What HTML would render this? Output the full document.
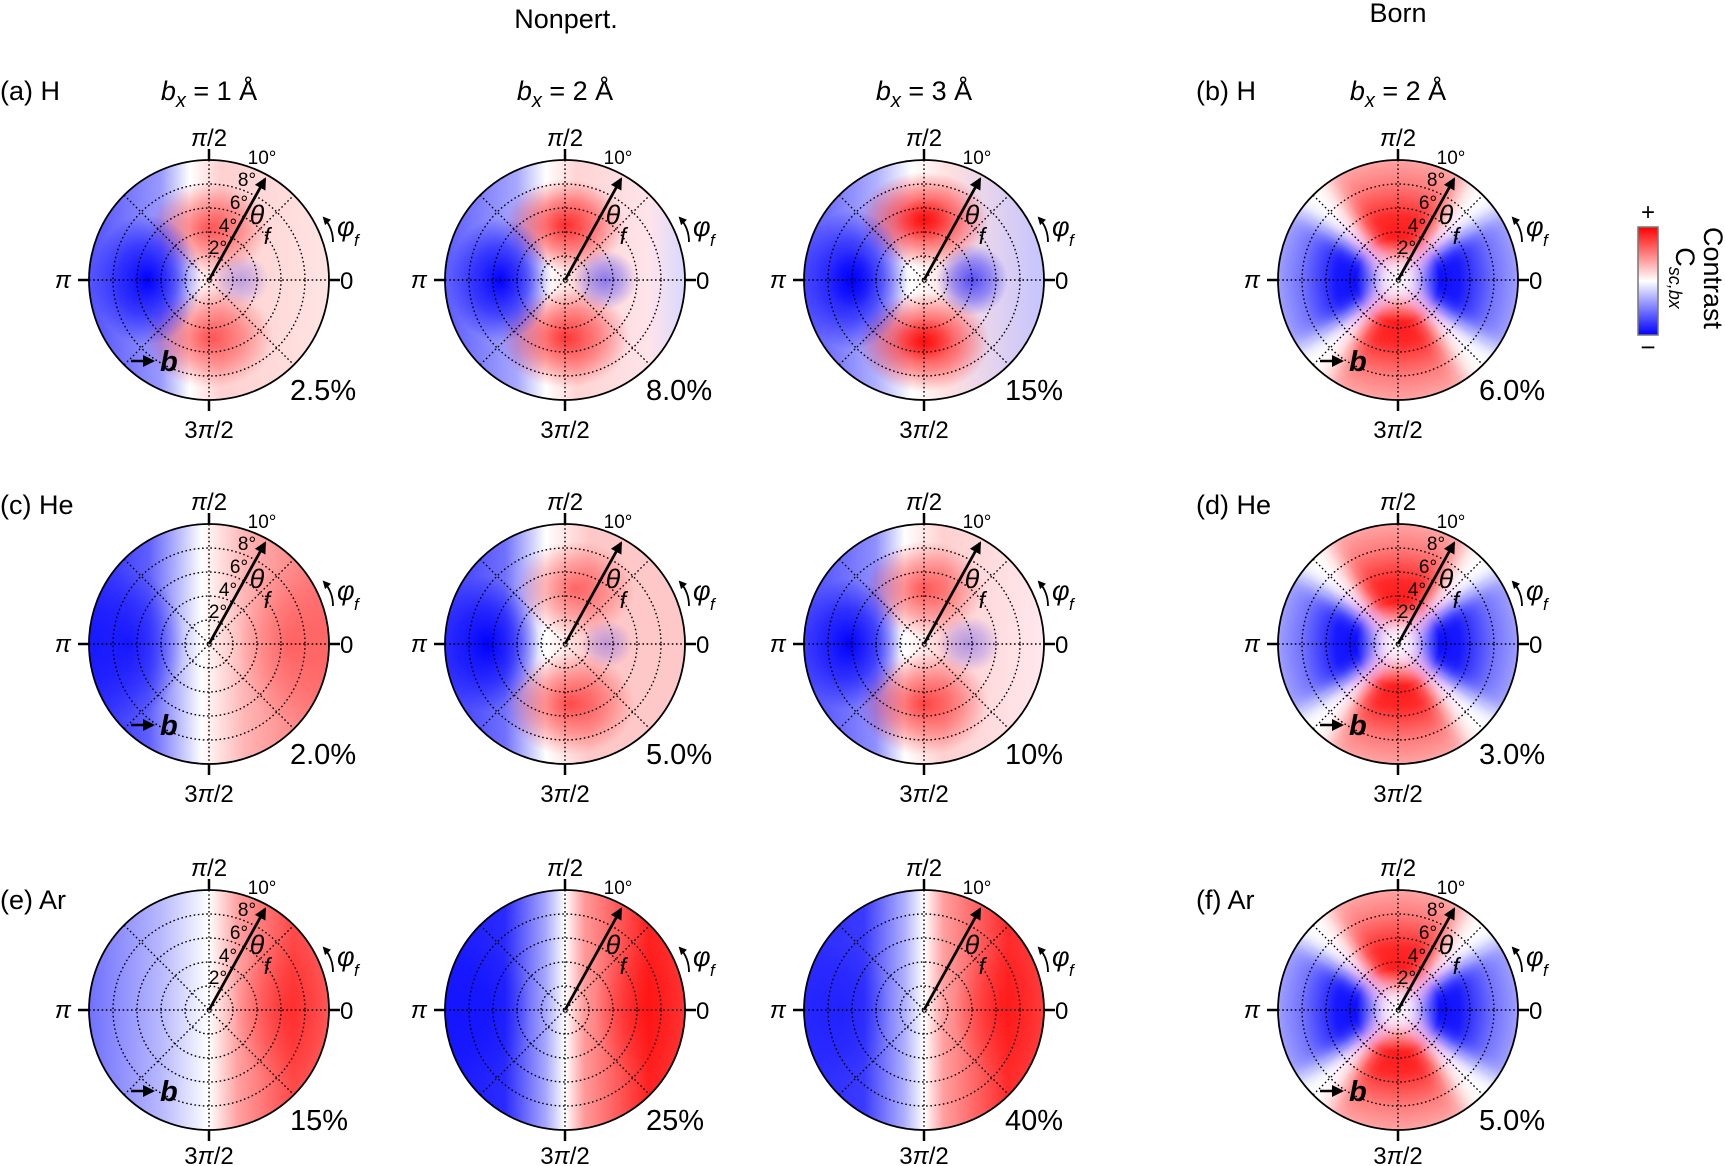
<!DOCTYPE html>
<html><head><meta charset="utf-8"><style>
html,body{margin:0;padding:0;background:#fff;}
svg{display:block;font-family:"Liberation Sans",Arial,sans-serif;}
</style></head><body>
<svg width="1725" height="1166" viewBox="0 0 1725 1166" xmlns="http://www.w3.org/2000/svg">
<defs>
<clipPath id="cc"><circle cx="0" cy="0" r="120"/></clipPath>
<filter id="bl" x="-50%" y="-50%" width="200%" height="200%"><feGaussianBlur stdDeviation="9"/></filter>
<radialGradient id="gR"><stop offset="0" stop-color="#ff0000" stop-opacity="0.9"/><stop offset="0.55" stop-color="#ff0000" stop-opacity="0.45"/><stop offset="1" stop-color="#ff0000" stop-opacity="0"/></radialGradient>
<radialGradient id="gB"><stop offset="0" stop-color="#0000ff" stop-opacity="1"/><stop offset="0.55" stop-color="#0000ff" stop-opacity="0.55"/><stop offset="1" stop-color="#0000ff" stop-opacity="0"/></radialGradient>
<radialGradient id="gBorn" cx="0" cy="0" r="120" gradientUnits="userSpaceOnUse"><stop offset="0" stop-color="#fff" stop-opacity="1"/><stop offset="0.12" stop-color="#fff" stop-opacity="0.8"/><stop offset="0.35" stop-color="#fff" stop-opacity="0"/><stop offset="0.52" stop-color="#fff" stop-opacity="0.05"/><stop offset="0.8" stop-color="#fff" stop-opacity="0.42"/><stop offset="1" stop-color="#fff" stop-opacity="0.6"/></radialGradient>
<linearGradient id="bH1" x1="0" x2="1" y1="0" y2="0"><stop offset="0" stop-color="#4f4fff"/><stop offset="0.3" stop-color="#9a9aff"/><stop offset="0.42" stop-color="#ffffff"/><stop offset="0.55" stop-color="#ffd0d0"/><stop offset="1" stop-color="#ffe4e4"/></linearGradient>
<linearGradient id="bH2" x1="0" x2="1" y1="0" y2="0"><stop offset="0" stop-color="#5a5aff"/><stop offset="0.3" stop-color="#a8a8ff"/><stop offset="0.42" stop-color="#ffffff"/><stop offset="0.55" stop-color="#ffd4d4"/><stop offset="0.85" stop-color="#ffe4ea"/><stop offset="1" stop-color="#d8d8ff"/></linearGradient>
<linearGradient id="bH3" x1="0" x2="1" y1="0" y2="0"><stop offset="0" stop-color="#5050ff"/><stop offset="0.3" stop-color="#b0b0ff"/><stop offset="0.45" stop-color="#ffffff"/><stop offset="0.6" stop-color="#ffe0e0"/><stop offset="1" stop-color="#c4c4ff"/></linearGradient>
<linearGradient id="bHe1" x1="0" x2="1" y1="0" y2="0"><stop offset="0" stop-color="#2020ff"/><stop offset="0.25" stop-color="#6060ff"/><stop offset="0.47" stop-color="#ffffff"/><stop offset="0.65" stop-color="#ffb4b4"/><stop offset="1" stop-color="#ff6e6e"/></linearGradient>
<linearGradient id="bHe2" x1="0" x2="1" y1="0" y2="0"><stop offset="0" stop-color="#3535ff"/><stop offset="0.25" stop-color="#7070ff"/><stop offset="0.42" stop-color="#ffffff"/><stop offset="0.6" stop-color="#ffc8c8"/><stop offset="1" stop-color="#ffc8c8"/></linearGradient>
<linearGradient id="bHe3" x1="0" x2="1" y1="0" y2="0"><stop offset="0" stop-color="#4545ff"/><stop offset="0.3" stop-color="#9090ff"/><stop offset="0.42" stop-color="#ffffff"/><stop offset="0.58" stop-color="#ffd0d0"/><stop offset="1" stop-color="#ffe8ee"/></linearGradient>
<linearGradient id="bAr1" x1="0" x2="1" y1="0" y2="0"><stop offset="0" stop-color="#7070ff"/><stop offset="0.3" stop-color="#b8b8ff"/><stop offset="0.5" stop-color="#ffffff"/><stop offset="0.62" stop-color="#ffa0a0"/><stop offset="0.85" stop-color="#ff4848"/><stop offset="1" stop-color="#ff5a5a"/></linearGradient>
<linearGradient id="bAr2" x1="0" x2="1" y1="0" y2="0"><stop offset="0" stop-color="#1515ff"/><stop offset="0.25" stop-color="#2a2aff"/><stop offset="0.42" stop-color="#a8a8ff"/><stop offset="0.5" stop-color="#ffffff"/><stop offset="0.58" stop-color="#ff9a9a"/><stop offset="0.85" stop-color="#ff2020"/><stop offset="1" stop-color="#ff3434"/></linearGradient>
<linearGradient id="bAr3" x1="0" x2="1" y1="0" y2="0"><stop offset="0" stop-color="#2828ff"/><stop offset="0.25" stop-color="#3a3aff"/><stop offset="0.42" stop-color="#b0b0ff"/><stop offset="0.5" stop-color="#ffffff"/><stop offset="0.58" stop-color="#ffa0a0"/><stop offset="0.85" stop-color="#ff2a2a"/><stop offset="1" stop-color="#ff3c3c"/></linearGradient>
<linearGradient id="cbar" x1="0" x2="0" y1="0" y2="1"><stop offset="0" stop-color="#ff0000"/><stop offset="0.5" stop-color="#ffffff"/><stop offset="1" stop-color="#0000ff"/></linearGradient>
<marker id="ah" markerWidth="8" markerHeight="8" refX="6" refY="4" orient="auto" markerUnits="userSpaceOnUse"><path d="M0,0 L8,4 L0,8 z" fill="#000"/></marker>
<marker id="ah2" markerWidth="12" markerHeight="12" refX="10" refY="6" orient="auto" markerUnits="userSpaceOnUse"><path d="M0,0 L12,6 L0,12 z" fill="#000"/></marker>
<g id="grid" fill="none" stroke="#000">
<g stroke-width="1.4" stroke-dasharray="1.6 2.6">
<circle r="24"/><circle r="48"/><circle r="72"/><circle r="96"/>
<line x1="-120" y1="0" x2="120" y2="0"/><line x1="0" y1="-120" x2="0" y2="120"/>
<line x1="-84.9" y1="-84.9" x2="84.9" y2="84.9"/><line x1="-84.9" y1="84.9" x2="84.9" y2="-84.9"/>
</g>
<circle r="120" stroke-width="1.8"/>
<line x1="0" y1="-120" x2="0" y2="-131" stroke-width="2.5"/><line x1="0" y1="120" x2="0" y2="131" stroke-width="2.5"/>
<line x1="-120" y1="0" x2="-131" y2="0" stroke-width="2.5"/><line x1="120" y1="0" x2="131" y2="0" stroke-width="2.5"/>
<line x1="0" y1="0" x2="56" y2="-101" stroke-width="2.8" marker-end="url(#ah2)"/>
<path d="M124,-38 Q124,-52 115,-62" stroke-width="1.8" marker-end="url(#ah)"/>
</g>
<g id="born">
<g clip-path="url(#cc)">
<rect x="-120" y="-120" width="240" height="240" fill="#fff"/>
<g filter="url(#bl)">
<path d="M0,0 L-80,-115 A140,140 0 0 1 80,-115 Z" fill="#ff1c1c"/>
<path d="M0,0 L80,115 A140,140 0 0 1 -80,115 Z" fill="#ff1c1c"/>
<path d="M0,0 L115,-80 A140,140 0 0 1 115,80 Z" fill="#1010ff"/>
<path d="M0,0 L-115,80 A140,140 0 0 1 -115,-80 Z" fill="#1010ff"/>
</g>
<circle r="120" fill="url(#gBorn)"/>
</g>
<use href="#grid"/>
</g>
<g id="barrow"><line x1="-78" y1="81" x2="-56" y2="81" stroke="#000" stroke-width="2.5" marker-end="url(#ah2)"/></g>
</defs>

<text x="566" y="28" font-size="27" text-anchor="middle">Nonpert.</text>
<text x="1398" y="22" font-size="27" text-anchor="middle">Born</text>

<g font-size="27">
<text x="0" y="100">(a) H</text>
<text x="1196" y="100">(b) H</text>
<text x="0" y="514">(c) He</text>
<text x="1196" y="514">(d) He</text>
<text x="0" y="909">(e) Ar</text>
<text x="1196" y="909">(f) Ar</text>
</g>
<g font-size="27" text-anchor="middle">
<text x="209" y="100"><tspan font-style="italic">b</tspan><tspan font-style="italic" font-size="20" dy="7">x</tspan><tspan dy="-7"> = 1 Å</tspan></text>
<text x="565" y="100"><tspan font-style="italic">b</tspan><tspan font-style="italic" font-size="20" dy="7">x</tspan><tspan dy="-7"> = 2 Å</tspan></text>
<text x="924" y="100"><tspan font-style="italic">b</tspan><tspan font-style="italic" font-size="20" dy="7">x</tspan><tspan dy="-7"> = 3 Å</tspan></text>
<text x="1398" y="100"><tspan font-style="italic">b</tspan><tspan font-style="italic" font-size="20" dy="7">x</tspan><tspan dy="-7"> = 2 Å</tspan></text>
</g>

<g transform="translate(209,280)">
<g clip-path="url(#cc)">
<rect x="-120" y="-120" width="240" height="240" fill="url(#bH1)"/>
<ellipse cx="0" cy="-52" rx="60" ry="46" fill="url(#gR)" opacity="0.7"/>
<ellipse cx="0" cy="58" rx="65" ry="50" fill="url(#gR)" opacity="0.7"/>
<ellipse cx="-62" cy="0" rx="55" ry="65" fill="url(#gB)"/>
<ellipse cx="32" cy="0" rx="28" ry="26" fill="url(#gB)" opacity="0.25"/>
</g>
<use href="#grid"/>
</g>
<g transform="translate(565,280)">
<g clip-path="url(#cc)">
<rect x="-120" y="-120" width="240" height="240" fill="url(#bH2)"/>
<ellipse cx="0" cy="-55" rx="60" ry="46" fill="url(#gR)" opacity="0.9"/>
<ellipse cx="0" cy="58" rx="65" ry="50" fill="url(#gR)" opacity="0.85"/>
<ellipse cx="-65" cy="0" rx="52" ry="62" fill="url(#gB)"/>
<ellipse cx="40" cy="0" rx="32" ry="30" fill="url(#gB)" opacity="0.45"/>
</g>
<use href="#grid"/>
</g>
<g transform="translate(924,280)">
<g clip-path="url(#cc)">
<rect x="-120" y="-120" width="240" height="240" fill="url(#bH3)"/>
<ellipse cx="0" cy="-60" rx="65" ry="48" fill="url(#gR)"/>
<ellipse cx="0" cy="-60" rx="30" ry="22" fill="url(#gR)" opacity="0.5"/>
<ellipse cx="0" cy="62" rx="66" ry="50" fill="url(#gR)"/>
<ellipse cx="0" cy="60" rx="30" ry="22" fill="url(#gR)" opacity="0.5"/>
<ellipse cx="-72" cy="0" rx="55" ry="70" fill="url(#gB)"/>
<ellipse cx="-72" cy="0" rx="25" ry="30" fill="url(#gB)" opacity="0.5"/>
<ellipse cx="48" cy="0" rx="36" ry="36" fill="url(#gB)" opacity="0.65"/>
</g>
<use href="#grid"/>
</g>
<g transform="translate(1398,280)"><use href="#born"/></g>

<g transform="translate(209,644)">
<g clip-path="url(#cc)">
<rect x="-120" y="-120" width="240" height="240" fill="url(#bHe1)"/>
<ellipse cx="-80" cy="0" rx="55" ry="75" fill="url(#gB)" opacity="0.7"/>
<ellipse cx="80" cy="0" rx="50" ry="80" fill="url(#gR)" opacity="0.35"/>
</g>
<use href="#grid"/>
</g>
<g transform="translate(565,644)">
<g clip-path="url(#cc)">
<rect x="-120" y="-120" width="240" height="240" fill="url(#bHe2)"/>
<ellipse cx="10" cy="-55" rx="60" ry="48" fill="url(#gR)" opacity="0.6"/>
<ellipse cx="5" cy="60" rx="65" ry="52" fill="url(#gR)" opacity="0.75"/>
<ellipse cx="-78" cy="0" rx="52" ry="68" fill="url(#gB)"/>
<ellipse cx="42" cy="0" rx="26" ry="24" fill="url(#gB)" opacity="0.25"/>
</g>
<use href="#grid"/>
</g>
<g transform="translate(924,644)">
<g clip-path="url(#cc)">
<rect x="-120" y="-120" width="240" height="240" fill="url(#bHe3)"/>
<ellipse cx="0" cy="-55" rx="60" ry="48" fill="url(#gR)" opacity="0.7"/>
<ellipse cx="0" cy="60" rx="65" ry="52" fill="url(#gR)" opacity="0.8"/>
<ellipse cx="-75" cy="0" rx="52" ry="66" fill="url(#gB)"/>
<ellipse cx="45" cy="0" rx="32" ry="28" fill="url(#gB)" opacity="0.3"/>
</g>
<use href="#grid"/>
</g>
<g transform="translate(1398,644)"><use href="#born"/></g>

<g transform="translate(209,1010)">
<g clip-path="url(#cc)">
<rect x="-120" y="-120" width="240" height="240" fill="url(#bAr1)"/>
<ellipse cx="75" cy="0" rx="50" ry="75" fill="url(#gR)" opacity="0.45"/>
</g>
<use href="#grid"/>
</g>
<g transform="translate(565,1010)">
<g clip-path="url(#cc)">
<rect x="-120" y="-120" width="240" height="240" fill="url(#bAr2)"/>
<ellipse cx="75" cy="0" rx="45" ry="70" fill="url(#gR)" opacity="0.5"/>
<ellipse cx="-80" cy="0" rx="45" ry="70" fill="url(#gB)" opacity="0.4"/>
</g>
<use href="#grid"/>
</g>
<g transform="translate(924,1010)">
<g clip-path="url(#cc)">
<rect x="-120" y="-120" width="240" height="240" fill="url(#bAr3)"/>
<ellipse cx="75" cy="0" rx="45" ry="70" fill="url(#gR)" opacity="0.5"/>
<ellipse cx="-80" cy="0" rx="45" ry="70" fill="url(#gB)" opacity="0.35"/>
</g>
<use href="#grid"/>
</g>
<g transform="translate(1398,1010)"><use href="#born"/></g>

<g font-size="24" text-anchor="middle">
<text x="209" y="146"><tspan font-style="italic">π</tspan>/2</text>
<text x="209" y="438">3<tspan font-style="italic">π</tspan>/2</text>
<text x="565" y="146"><tspan font-style="italic">π</tspan>/2</text>
<text x="565" y="438">3<tspan font-style="italic">π</tspan>/2</text>
<text x="924" y="146"><tspan font-style="italic">π</tspan>/2</text>
<text x="924" y="438">3<tspan font-style="italic">π</tspan>/2</text>
<text x="1398" y="146"><tspan font-style="italic">π</tspan>/2</text>
<text x="1398" y="438">3<tspan font-style="italic">π</tspan>/2</text>
<text x="209" y="510"><tspan font-style="italic">π</tspan>/2</text>
<text x="209" y="802">3<tspan font-style="italic">π</tspan>/2</text>
<text x="565" y="510"><tspan font-style="italic">π</tspan>/2</text>
<text x="565" y="802">3<tspan font-style="italic">π</tspan>/2</text>
<text x="924" y="510"><tspan font-style="italic">π</tspan>/2</text>
<text x="924" y="802">3<tspan font-style="italic">π</tspan>/2</text>
<text x="1398" y="510"><tspan font-style="italic">π</tspan>/2</text>
<text x="1398" y="802">3<tspan font-style="italic">π</tspan>/2</text>
<text x="209" y="876"><tspan font-style="italic">π</tspan>/2</text>
<text x="209" y="1164">3<tspan font-style="italic">π</tspan>/2</text>
<text x="565" y="876"><tspan font-style="italic">π</tspan>/2</text>
<text x="565" y="1164">3<tspan font-style="italic">π</tspan>/2</text>
<text x="924" y="876"><tspan font-style="italic">π</tspan>/2</text>
<text x="924" y="1164">3<tspan font-style="italic">π</tspan>/2</text>
<text x="1398" y="876"><tspan font-style="italic">π</tspan>/2</text>
<text x="1398" y="1164">3<tspan font-style="italic">π</tspan>/2</text>
</g>
<g font-size="24">
<g text-anchor="end" font-style="italic">
<text x="71" y="288">π</text><text x="427" y="288">π</text><text x="786" y="288">π</text><text x="1260" y="288">π</text>
<text x="71" y="652">π</text><text x="427" y="652">π</text><text x="786" y="652">π</text><text x="1260" y="652">π</text>
<text x="71" y="1018">π</text><text x="427" y="1018">π</text><text x="786" y="1018">π</text><text x="1260" y="1018">π</text>
</g>
<text x="340" y="289">0</text><text x="696" y="289">0</text><text x="1055" y="289">0</text><text x="1529" y="289">0</text>
<text x="340" y="653">0</text><text x="696" y="653">0</text><text x="1055" y="653">0</text><text x="1529" y="653">0</text>
<text x="340" y="1019">0</text><text x="696" y="1019">0</text><text x="1055" y="1019">0</text><text x="1529" y="1019">0</text>
</g>

<g>
<g transform="translate(209,280)"><text x="53" y="-116" font-size="19" text-anchor="middle">10°</text><text x="38" y="-94" font-size="19" text-anchor="middle">8°</text><text x="30" y="-71" font-size="19" text-anchor="middle">6°</text><text x="19" y="-48" font-size="19" text-anchor="middle">4°</text><text x="9" y="-26" font-size="19" text-anchor="middle">2°</text><text x="48" y="-56" font-size="27" font-style="italic" text-anchor="middle">θ</text><text x="58" y="-36" font-size="23" font-style="italic" text-anchor="middle">f</text><text x="128" y="-44" font-size="27" font-style="italic">φ</text><text x="145" y="-34" font-size="17" font-style="italic">f</text><text x="81" y="120" font-size="29">2.5%</text><use href="#barrow"/><text x="-49" y="91" font-size="29" font-weight="bold" font-style="italic">b</text></g>
<g transform="translate(565,280)"><text x="53" y="-116" font-size="19" text-anchor="middle">10°</text><text x="48" y="-56" font-size="27" font-style="italic" text-anchor="middle">θ</text><text x="58" y="-36" font-size="23" font-style="italic" text-anchor="middle">f</text><text x="128" y="-44" font-size="27" font-style="italic">φ</text><text x="145" y="-34" font-size="17" font-style="italic">f</text><text x="81" y="120" font-size="29">8.0%</text></g>
<g transform="translate(924,280)"><text x="53" y="-116" font-size="19" text-anchor="middle">10°</text><text x="48" y="-56" font-size="27" font-style="italic" text-anchor="middle">θ</text><text x="58" y="-36" font-size="23" font-style="italic" text-anchor="middle">f</text><text x="128" y="-44" font-size="27" font-style="italic">φ</text><text x="145" y="-34" font-size="17" font-style="italic">f</text><text x="81" y="120" font-size="29">15%</text></g>
<g transform="translate(1398,280)"><text x="53" y="-116" font-size="19" text-anchor="middle">10°</text><text x="38" y="-94" font-size="19" text-anchor="middle">8°</text><text x="30" y="-71" font-size="19" text-anchor="middle">6°</text><text x="19" y="-48" font-size="19" text-anchor="middle">4°</text><text x="9" y="-26" font-size="19" text-anchor="middle">2°</text><text x="48" y="-56" font-size="27" font-style="italic" text-anchor="middle">θ</text><text x="58" y="-36" font-size="23" font-style="italic" text-anchor="middle">f</text><text x="128" y="-44" font-size="27" font-style="italic">φ</text><text x="145" y="-34" font-size="17" font-style="italic">f</text><text x="81" y="120" font-size="29">6.0%</text><use href="#barrow"/><text x="-49" y="91" font-size="29" font-weight="bold" font-style="italic">b</text></g>
<g transform="translate(209,644)"><text x="53" y="-116" font-size="19" text-anchor="middle">10°</text><text x="38" y="-94" font-size="19" text-anchor="middle">8°</text><text x="30" y="-71" font-size="19" text-anchor="middle">6°</text><text x="19" y="-48" font-size="19" text-anchor="middle">4°</text><text x="9" y="-26" font-size="19" text-anchor="middle">2°</text><text x="48" y="-56" font-size="27" font-style="italic" text-anchor="middle">θ</text><text x="58" y="-36" font-size="23" font-style="italic" text-anchor="middle">f</text><text x="128" y="-44" font-size="27" font-style="italic">φ</text><text x="145" y="-34" font-size="17" font-style="italic">f</text><text x="81" y="120" font-size="29">2.0%</text><use href="#barrow"/><text x="-49" y="91" font-size="29" font-weight="bold" font-style="italic">b</text></g>
<g transform="translate(565,644)"><text x="53" y="-116" font-size="19" text-anchor="middle">10°</text><text x="48" y="-56" font-size="27" font-style="italic" text-anchor="middle">θ</text><text x="58" y="-36" font-size="23" font-style="italic" text-anchor="middle">f</text><text x="128" y="-44" font-size="27" font-style="italic">φ</text><text x="145" y="-34" font-size="17" font-style="italic">f</text><text x="81" y="120" font-size="29">5.0%</text></g>
<g transform="translate(924,644)"><text x="53" y="-116" font-size="19" text-anchor="middle">10°</text><text x="48" y="-56" font-size="27" font-style="italic" text-anchor="middle">θ</text><text x="58" y="-36" font-size="23" font-style="italic" text-anchor="middle">f</text><text x="128" y="-44" font-size="27" font-style="italic">φ</text><text x="145" y="-34" font-size="17" font-style="italic">f</text><text x="81" y="120" font-size="29">10%</text></g>
<g transform="translate(1398,644)"><text x="53" y="-116" font-size="19" text-anchor="middle">10°</text><text x="38" y="-94" font-size="19" text-anchor="middle">8°</text><text x="30" y="-71" font-size="19" text-anchor="middle">6°</text><text x="19" y="-48" font-size="19" text-anchor="middle">4°</text><text x="9" y="-26" font-size="19" text-anchor="middle">2°</text><text x="48" y="-56" font-size="27" font-style="italic" text-anchor="middle">θ</text><text x="58" y="-36" font-size="23" font-style="italic" text-anchor="middle">f</text><text x="128" y="-44" font-size="27" font-style="italic">φ</text><text x="145" y="-34" font-size="17" font-style="italic">f</text><text x="81" y="120" font-size="29">3.0%</text><use href="#barrow"/><text x="-49" y="91" font-size="29" font-weight="bold" font-style="italic">b</text></g>
<g transform="translate(209,1010)"><text x="53" y="-116" font-size="19" text-anchor="middle">10°</text><text x="38" y="-94" font-size="19" text-anchor="middle">8°</text><text x="30" y="-71" font-size="19" text-anchor="middle">6°</text><text x="19" y="-48" font-size="19" text-anchor="middle">4°</text><text x="9" y="-26" font-size="19" text-anchor="middle">2°</text><text x="48" y="-56" font-size="27" font-style="italic" text-anchor="middle">θ</text><text x="58" y="-36" font-size="23" font-style="italic" text-anchor="middle">f</text><text x="128" y="-44" font-size="27" font-style="italic">φ</text><text x="145" y="-34" font-size="17" font-style="italic">f</text><text x="81" y="120" font-size="29">15%</text><use href="#barrow"/><text x="-49" y="91" font-size="29" font-weight="bold" font-style="italic">b</text></g>
<g transform="translate(565,1010)"><text x="53" y="-116" font-size="19" text-anchor="middle">10°</text><text x="48" y="-56" font-size="27" font-style="italic" text-anchor="middle">θ</text><text x="58" y="-36" font-size="23" font-style="italic" text-anchor="middle">f</text><text x="128" y="-44" font-size="27" font-style="italic">φ</text><text x="145" y="-34" font-size="17" font-style="italic">f</text><text x="81" y="120" font-size="29">25%</text></g>
<g transform="translate(924,1010)"><text x="53" y="-116" font-size="19" text-anchor="middle">10°</text><text x="48" y="-56" font-size="27" font-style="italic" text-anchor="middle">θ</text><text x="58" y="-36" font-size="23" font-style="italic" text-anchor="middle">f</text><text x="128" y="-44" font-size="27" font-style="italic">φ</text><text x="145" y="-34" font-size="17" font-style="italic">f</text><text x="81" y="120" font-size="29">40%</text></g>
<g transform="translate(1398,1010)"><text x="53" y="-116" font-size="19" text-anchor="middle">10°</text><text x="38" y="-94" font-size="19" text-anchor="middle">8°</text><text x="30" y="-71" font-size="19" text-anchor="middle">6°</text><text x="19" y="-48" font-size="19" text-anchor="middle">4°</text><text x="9" y="-26" font-size="19" text-anchor="middle">2°</text><text x="48" y="-56" font-size="27" font-style="italic" text-anchor="middle">θ</text><text x="58" y="-36" font-size="23" font-style="italic" text-anchor="middle">f</text><text x="128" y="-44" font-size="27" font-style="italic">φ</text><text x="145" y="-34" font-size="17" font-style="italic">f</text><text x="81" y="120" font-size="29">5.0%</text><use href="#barrow"/><text x="-49" y="91" font-size="29" font-weight="bold" font-style="italic">b</text></g>
</g>

<rect x="1638" y="227" width="20" height="108" fill="url(#cbar)" stroke="#777" stroke-width="1.5"/>
<text x="1648" y="220" font-size="24" text-anchor="middle">+</text>
<text x="1648" y="356" font-size="26" text-anchor="middle">−</text>
<text transform="translate(1704,278) rotate(90)" font-size="27" text-anchor="middle">Contrast</text>
<text transform="translate(1676,278) rotate(90)" font-size="27" text-anchor="middle">C<tspan font-size="18" font-style="italic" dy="7">sc,bx</tspan></text>
</svg>
</body></html>
